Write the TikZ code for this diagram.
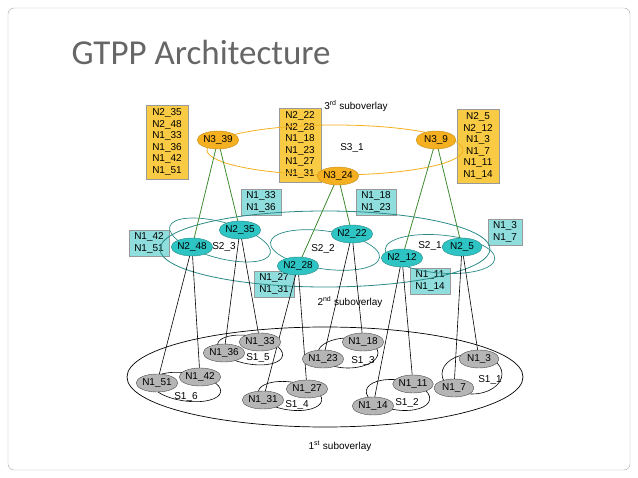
\documentclass[tikz,border=0pt]{standalone}
\usepackage{fontspec}
\setmainfont{Liberation Sans}
\newfontfamily\titlefont{Carlito}
\usetikzlibrary{shapes.geometric}
\definecolor{yel}{HTML}{F9CB45}
\definecolor{orn}{HTML}{F5B021}
\definecolor{cyb}{HTML}{8FDDDD}
\definecolor{cyn}{HTML}{2EC4C4}
\definecolor{teal}{HTML}{2A8A86}
\definecolor{gryn}{HTML}{B5B5B5}
\definecolor{grn}{HTML}{3E8A2E}
\begin{document}
\begin{tikzpicture}[x=1pt,y=-1pt,
  lab/.style={font=\fontsize{10}{11.5}\selectfont},
  n3/.style={ellipse,draw=orn!80!black,fill=orn,inner sep=0pt,minimum width=40,minimum height=18,lab},
  n2/.style={ellipse,draw=teal,fill=cyn,inner sep=0pt,minimum width=40,minimum height=18,lab},
  n1/.style={ellipse,draw=black!70,fill=gryn,inner sep=0pt,minimum width=40,minimum height=18,lab},
  ybox/.style={draw=black!40,fill=yel,align=center,lab,inner xsep=6pt,inner ysep=4pt},
  cbox/.style={draw=black!40,fill=cyb,align=center,lab,inner xsep=5pt,inner ysep=3pt},
  gl/.style={draw=grn,line width=0.8pt},
  bl/.style={draw=black,line width=0.6pt}]
\useasboundingbox (0,0) rectangle (638,478);
\draw[black!35,rounded corners=6] (8,8) rectangle (630,470);
\node[anchor=west,text=black!60,font=\titlefont\fontsize{35}{40}\selectfont] (title) at (68,52) {GTPP Architecture};
% boxes
\node[ybox] (y1) at (167,142) {N2\_35\\N2\_48\\N1\_33\\N1\_36\\N1\_42\\N1\_51};
\node[ybox] (y2) at (300,145) {N2\_22\\N2\_28\\N1\_18\\N1\_23\\N1\_27\\N1\_31};
\node[ybox] (y3) at (478,146) {N2\_5\\N2\_12\\N1\_3\\N1\_7\\N1\_11\\N1\_14};
% 3rd overlay ellipse
\draw[orn,line width=0.8pt] (335,150) ellipse [x radius=128,y radius=25];
\node[lab] (s31) at (352,148) {S3\_1};
\node[lab] (t3) at (356,106) {3\textsuperscript{rd} suboverlay};
% cyan boxes
\node[cbox] (c1) at (261,202) {N1\_33\\N1\_36};
\node[cbox] (c2) at (376,202) {N1\_18\\N1\_23};
\node[cbox] (c3) at (149,243) {N1\_42\\N1\_51};
\node[cbox] (c4) at (505,232) {N1\_3\\N1\_7};
\node[cbox] (c5) at (274,284) {N1\_27\\N1\_31};
\node[cbox] (c6) at (430,281) {N1\_11\\N1\_14};
% 2nd overlay
\draw[teal,line width=0.8pt] (325,249) ellipse [x radius=165,y radius=38];
\draw[teal,line width=0.7pt,rotate around={-15:(220,240)}] (220,240) ellipse [x radius=52,y radius=18];
\draw[teal,line width=0.7pt,rotate around={-8:(325,250)}] (325,250) ellipse [x radius=55,y radius=19];
\draw[teal,line width=0.7pt,rotate around={-5:(440,254)}] (440,254) ellipse [x radius=55,y radius=19];
\node[lab] (s23) at (224,247) {S2\_3};
\node[lab] (s22) at (323,249) {S2\_2};
\node[lab] (s21) at (430,246) {S2\_1};
\node[lab] (t2) at (350,302) {2\textsuperscript{nd} suboverlay};
% 1st overlay
\draw[black,line width=0.7pt] (325,377) ellipse [x radius=198,y radius=50];
\draw[black,line width=0.6pt,rotate around={-10:(250,350)}] (250,350) ellipse [x radius=33,y radius=14];
\draw[black,line width=0.6pt] (348,353) ellipse [x radius=30,y radius=15];
\draw[black,line width=0.6pt] (472,374) ellipse [x radius=30,y radius=20];
\draw[black,line width=0.6pt,rotate around={-8:(186,387)}] (186,387) ellipse [x radius=35,y radius=14];
\draw[black,line width=0.6pt,rotate around={-8:(290,396)}] (290,396) ellipse [x radius=32,y radius=14];
\draw[black,line width=0.6pt,rotate around={-8:(398,395)}] (398,395) ellipse [x radius=32,y radius=15];
\node[lab] (s15) at (258,358) {S1\_5};
\node[lab] (s13) at (363,361) {S1\_3};
\node[lab] (s11) at (490,380) {S1\_1};
\node[lab] (s16) at (186,397) {S1\_6};
\node[lab] (s14) at (297,405) {S1\_4};
\node[lab] (s12) at (407,403) {S1\_2};
\node[lab] (t1) at (340,446) {1\textsuperscript{st} suboverlay};
% connectors (drawn first, nodes on top)
\path (218,140) coordinate (a339) (436,140) coordinate (a39) (338,176) coordinate (a324)
  (240,230) coordinate (a235) (192,247) coordinate (a248) (352,234) coordinate (a222)
  (298,266) coordinate (a228) (402,258) coordinate (a212) (462,247) coordinate (a25)
  (260,342) coordinate (a133) (224,353) coordinate (a136) (363,342) coordinate (a118)
  (323,359) coordinate (a123) (479,359) coordinate (a13) (454,388) coordinate (a17)
  (157,383) coordinate (a151) (200,377) coordinate (a142) (307,389) coordinate (a127)
  (263,400) coordinate (a131) (413,384) coordinate (a111) (373,406) coordinate (a114);
\draw[gl] (a339) -- (a248);
\draw[gl] (a339) -- (a235);
\draw[gl] (a324) -- (a228);
\draw[gl] (a324) -- (a222);
\draw[gl] (a39) -- (a212);
\draw[gl] (a39) -- (a25);
\draw[bl] (a248) -- (a151);
\draw[bl] (a248) -- (a142);
\draw[bl] (a235) -- (a136);
\draw[bl] (a235) -- (a133);
\draw[bl] (a228) -- (a131);
\draw[bl] (a228) -- (a127);
\draw[bl] (a222) -- (a123);
\draw[bl] (a222) -- (a118);
\draw[bl] (a212) -- (a114);
\draw[bl] (a212) -- (a111);
\draw[bl] (a25) -- (a17);
\draw[bl] (a25) -- (a13);
% nodes
\node[n3] (n339) at (a339) {N3\_39};
\node[n3] (n39) at (a39) {N3\_9};
\node[n3] (n324) at (a324) {N3\_24};
\node[n2] (n235) at (a235) {N2\_35};
\node[n2] (n248) at (a248) {N2\_48};
\node[n2] (n222) at (a222) {N2\_22};
\node[n2] (n228) at (a228) {N2\_28};
\node[n2] (n212) at (a212) {N2\_12};
\node[n2] (n25) at (a25) {N2\_5};
\node[n1] (n133) at (a133) {N1\_33};
\node[n1] (n136) at (a136) {N1\_36};
\node[n1] (n118) at (a118) {N1\_18};
\node[n1] (n123) at (a123) {N1\_23};
\node[n1] (n13) at (a13) {N1\_3};
\node[n1] (n17) at (a17) {N1\_7};
\node[n1] (n151) at (a151) {N1\_51};
\node[n1] (n142) at (a142) {N1\_42};
\node[n1] (n127) at (a127) {N1\_27};
\node[n1] (n131) at (a131) {N1\_31};
\node[n1] (n111) at (a111) {N1\_11};
\node[n1] (n114) at (a114) {N1\_14};
\end{tikzpicture}
\end{document}
